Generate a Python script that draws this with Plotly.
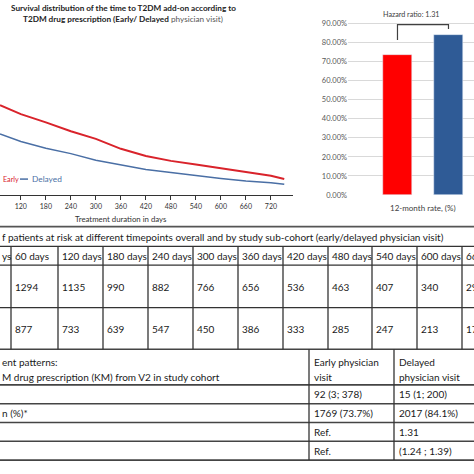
import plotly.graph_objects as go

# survival curves (KM)
km_days = [70, 120, 180, 240, 300, 360, 420, 480, 540, 600, 660, 720, 752]
km_early = [0.543, 0.489, 0.439, 0.385, 0.339, 0.279, 0.236, 0.206, 0.184, 0.160, 0.136, 0.116, 0.096]
km_delayed = [0.369, 0.323, 0.283, 0.250, 0.210, 0.180, 0.154, 0.136, 0.116, 0.100, 0.084, 0.074, 0.064]
km_ticks = [120, 180, 240, 300, 360, 420, 480, 540, 600, 660, 720]

# 12-month event rate bars
bar_groups = ["Early", "Delayed"]
bar_rates = [73.7, 84.1]
bar_colors = ["#FF0000", "#2F5B96"]
bar_ticks = [0, 10, 20, 30, 40, 50, 60, 70, 80, 90]
hazard_ratio = "1.31"

# patients at risk table
risk_headers = ["60 days", "120 days", "180 days", "240 days", "300 days", "360 days",
                "420 days", "480 days", "540 days", "600 days"]
risk_early = ["1294", "1135", "990", "882", "766", "656", "536", "463", "407", "340"]
risk_delayed = ["877", "733", "639", "547", "450", "386", "333", "285", "247", "213"]

# treatment patterns table
pattern_rows = [
    ["", "92 (3; 378)", "15 (1; 200)"],
    ["n (%)*", "1769 (73.7%)", "2017 (84.1%)"],
    ["", "Ref.", "1.31"],
    ["", "Ref.", "(1.24 ; 1.39)"],
]

W = H = 474
RED = "#D9232B"
BLUE = "#4A6FA5"
FONT = "Lato"


def px(x):
    return x / W


def py(y):
    return 1 - y / H


fig = go.Figure()

fig.add_trace(go.Scatter(x=km_days, y=km_early, mode="lines",
                         line=dict(color=RED, width=2), showlegend=False))
fig.add_trace(go.Scatter(x=km_days, y=km_delayed, mode="lines",
                         line=dict(color=BLUE, width=1.5), showlegend=False))

for i in range(2):
    fig.add_trace(go.Bar(x=[i], y=[bar_rates[i]], width=0.57, marker_color=bar_colors[i],
                         name=bar_groups[i], xaxis="x2", yaxis="y2", showlegend=False))

shapes = []
ann = []


def line(x0, y0, x1, y1, color="#333333", width=1.3):
    shapes.append(dict(type="line", xref="paper", yref="paper", x0=px(x0), y0=py(y0),
                       x1=px(x1), y1=py(y1), line=dict(color=color, width=width)))


def text(x, y, s, size=10, color="#1a1a1a", anchor="left"):
    ann.append(dict(xref="paper", yref="paper", x=px(x), y=py(y), text=s, showarrow=False,
                    xanchor=anchor, yanchor="middle", font=dict(family=FONT, size=size, color=color)))


# chart titles and labels
text(123, 8, "<b>Survival distribution of the time to T2DM add-on according to</b>", 8.2, "#222", "center")
text(123, 19, "<b>T2DM drug prescription (Early/ Delayed</b> <span style='color:#555'>physician visit)</span>",
     8.2, "#222", "center")
text(121, 221, "Treatment duration in days", 7.8, "#333", "center")
text(1, 181, "Early", 7.2, RED)
line(20, 181, 28, 181, BLUE, 1.5)
text(30, 181, "Delayed", 8.3, BLUE)

# hazard ratio bracket (bar axes)
shapes.append(dict(type="path", xref="x2", yref="y2",
                   path="M 0,81.5 L 0,89.5 L 1,89.5 L 1,87.3",
                   line=dict(color="#404040", width=1.2)))
ann.append(dict(xref="x2", yref="y2", x=0.28, y=94.8, text="Hazard ratio: " + hazard_ratio,
                showarrow=False, font=dict(family=FONT, size=7.2, color="#404040")))
ann.append(dict(xref="x2", yref="paper", x=0.5, y=py(210), text="12-month rate, (%)",
                showarrow=False, font=dict(family=FONT, size=8, color="#404040")))

# at risk table
col_x = [11, 58, 103, 148, 193, 238, 283, 328, 372, 417, 462]
line(0, 229, W, 229, "#555555", 1.8)
line(0, 249, W, 249)
line(0, 268, W, 268)
line(0, 311, W, 311)
line(0, 353, W, 353, "#444444", 1.6)
for cx in col_x:
    line(cx, 249, cx, 353)
text(0, 240, "f patients at risk at different timepoints overall and by study sub-cohort "
             "(early/delayed physician visit)")
text(0, 259, "ys")
for i, cx in enumerate(col_x[:-1]):
    text(cx + 2, 259, risk_headers[i])
    text(cx + 2, 290, risk_early[i])
    text(cx + 2, 333, risk_delayed[i])
text(col_x[-1] + 2, 259, "66")
text(col_x[-1] + 2, 290, "29")
text(col_x[-1] + 2, 333, "17")

# treatment patterns table
row_y = [389, 408, 427, 446, 465]
for ry in row_y:
    line(0, ry, W, ry, "#444444", 1.6)
line(309, 353, 309, 465)
line(394, 353, 394, 465)
text(0, 366, "ent patterns:")
text(0, 381, "M drug prescription (KM) from V2 in study cohort")
text(312, 366, "Early physician")
text(312, 381, "visit")
text(397, 366, "Delayed")
text(397, 381, "physician visit")
for r, row in enumerate(pattern_rows):
    ymid = (row_y[r] + row_y[r + 1]) / 2
    text(0, ymid, row[0])
    text(312, ymid, row[1])
    text(397, ymid, row[2])

fig.update_layout(
    width=W, height=H,
    margin=dict(l=0, r=0, t=0, b=0),
    paper_bgcolor="white", plot_bgcolor="white",
    font=dict(family=FONT),
    shapes=shapes, annotations=ann,
    bargap=0, hovermode=False,
    xaxis=dict(domain=[0, px(293)], range=[70, 773], tickvals=km_ticks,
               showline=True, linecolor="#333", linewidth=1.3, ticks="outside",
               ticklen=4, tickcolor="#333", showgrid=False, zeroline=False,
               ticklabelstandoff=1, tickfont=dict(size=7, color="#333")),
    yaxis=dict(domain=[py(197), py(30)], range=[0, 1], visible=False),
    xaxis2=dict(domain=[px(348), 1], range=[-0.97, 1.5], anchor="y2", visible=False),
    yaxis2=dict(domain=[py(197), py(10)], range=[0, 97.3], anchor="x2",
                tickvals=bar_ticks, ticktext=[f"{v:.2f}%" for v in bar_ticks],
                showgrid=True, gridcolor="#D9D9D9", gridwidth=1,
                zeroline=False, ticks="", tickfont=dict(size=7.5, color="#595959")),
)

# drop the browser's default page margin so the figure sits at the window corner
fig.write_html("out.html", config={"displayModeBar": False},
               post_script="document.body.style.margin='0';"
                           "document.body.style.overflow='hidden';")
